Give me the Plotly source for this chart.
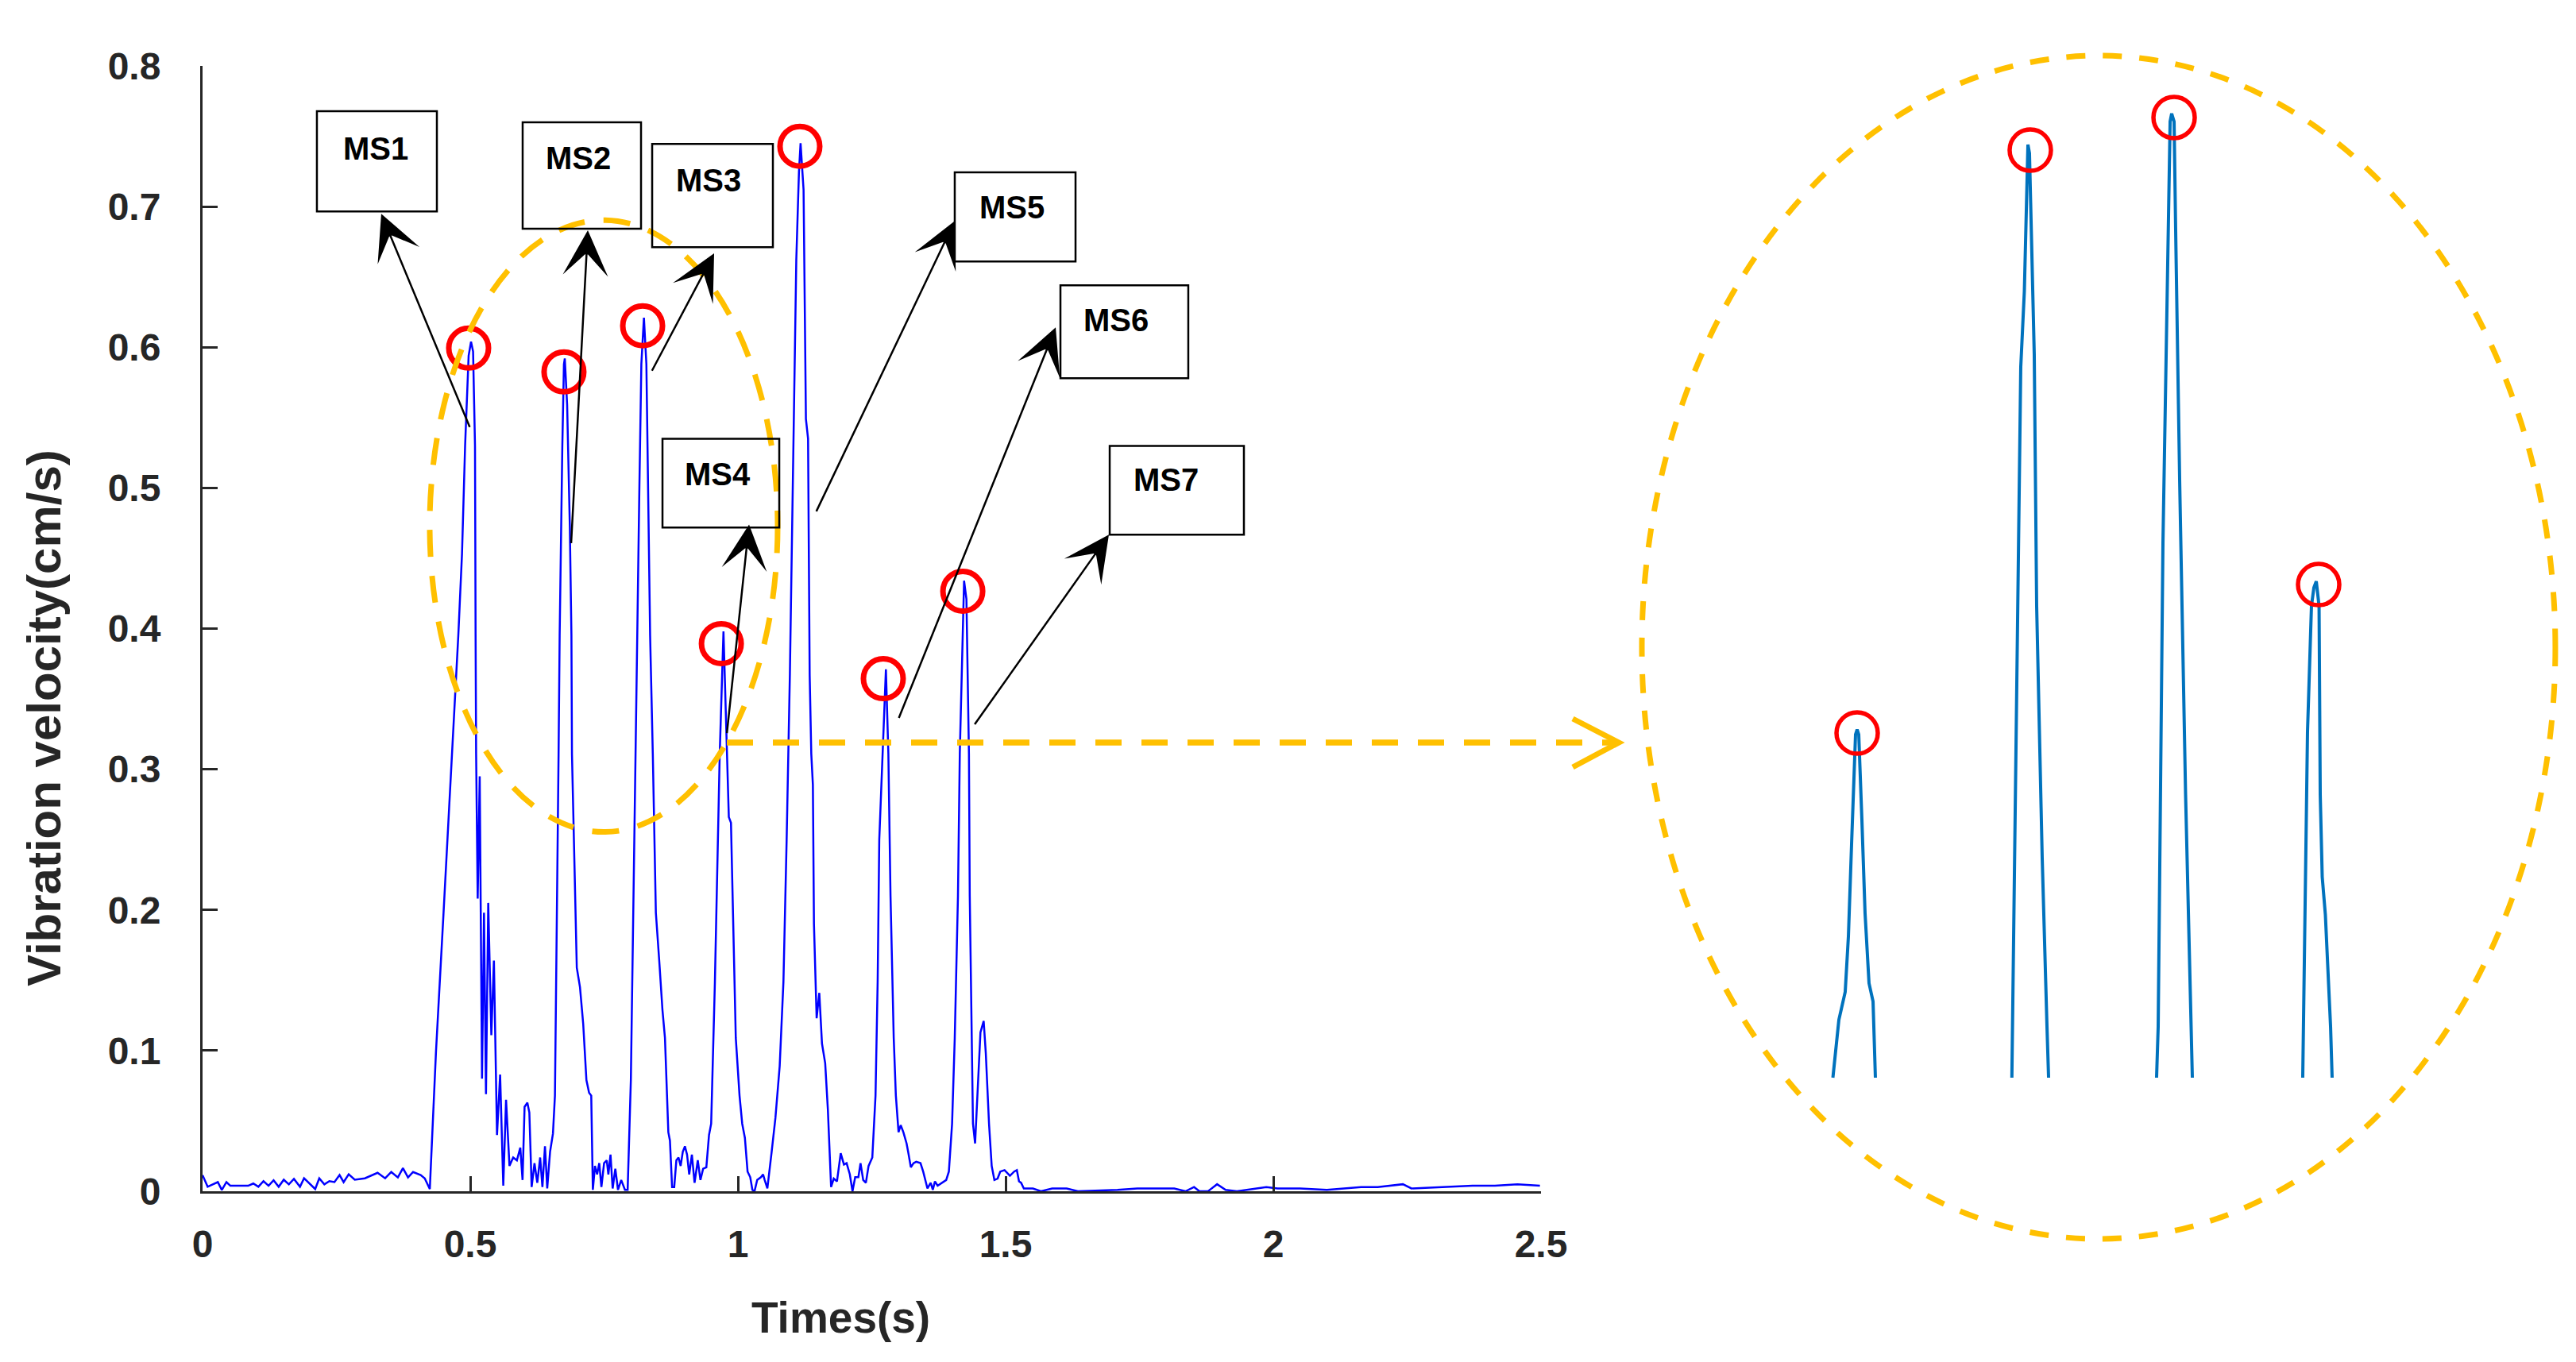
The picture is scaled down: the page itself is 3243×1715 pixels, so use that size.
import plotly.graph_objects as go

W, H = 3243, 1715

# main record: time (s) and vibration velocity (cm/s)
time_s = [
    0.0000, 0.0095, 0.0190, 0.0285, 0.0360, 0.0446, 0.0520, 0.0664, 0.0853, 0.0948,
    0.1043, 0.1138, 0.1233, 0.1327, 0.1422, 0.1517, 0.1612, 0.1707, 0.1820, 0.1896,
    0.2010, 0.2104, 0.2180, 0.2275, 0.2369, 0.2464, 0.2559, 0.2635, 0.2730, 0.2843,
    0.3032, 0.3269, 0.3411, 0.3525, 0.3648, 0.3743, 0.3838, 0.3932, 0.4074, 0.4150,
    0.4245, 0.4360, 0.4500, 0.4660, 0.4777, 0.4846, 0.4904, 0.4970, 0.5015, 0.5053,
    0.5089, 0.5100, 0.5110, 0.5139, 0.5177, 0.5220, 0.5257, 0.5294, 0.5336, 0.5394,
    0.5442, 0.5500, 0.5558, 0.5617, 0.5669, 0.5733, 0.5802, 0.5871, 0.5935, 0.5977,
    0.6015, 0.6067, 0.6104, 0.6147, 0.6200, 0.6252, 0.6306, 0.6348, 0.6396, 0.6438,
    0.6491, 0.6545, 0.6582, 0.6650, 0.6670, 0.6720, 0.6750, 0.6766, 0.6810, 0.6860,
    0.6890, 0.6900, 0.6940, 0.6990, 0.7050, 0.7110, 0.7170, 0.7220, 0.7260, 0.7290,
    0.7330, 0.7370, 0.7410, 0.7450, 0.7500, 0.7550, 0.7580, 0.7620, 0.7660, 0.7710,
    0.7760, 0.7820, 0.7890, 0.7940, 0.8000, 0.8040, 0.8080, 0.8120, 0.8160, 0.8196,
    0.8244, 0.8290, 0.8320, 0.8360, 0.8410, 0.8467, 0.8530, 0.8590, 0.8637, 0.8700,
    0.8730, 0.8770, 0.8810, 0.8850, 0.8890, 0.8930, 0.8970, 0.9010, 0.9050, 0.9090,
    0.9140, 0.9190, 0.9250, 0.9300, 0.9350, 0.9410, 0.9460, 0.9500, 0.9570, 0.9620,
    0.9660, 0.9730, 0.9790, 0.9830, 0.9870, 0.9920, 0.9960, 1.0030, 1.0080, 1.0130,
    1.0180, 1.0230, 1.0270, 1.0310, 1.0360, 1.0430, 1.0470, 1.0500, 1.0550, 1.0630,
    1.0700, 1.0780, 1.0850, 1.0910, 1.0940, 1.0970, 1.1090, 1.1140, 1.1170, 1.1226,
    1.1270, 1.1310, 1.1340, 1.1370, 1.1400, 1.1420, 1.1470, 1.1520, 1.1570, 1.1630,
    1.1680, 1.1740, 1.1790, 1.1850, 1.1920, 1.1980, 1.2030, 1.2090, 1.2140, 1.2190,
    1.2250, 1.2290, 1.2340, 1.2390, 1.2440, 1.2510, 1.2570, 1.2610, 1.2640, 1.2700,
    1.2764, 1.2810, 1.2850, 1.2910, 1.2950, 1.3000, 1.3040, 1.3090, 1.3150, 1.3180,
    1.3230, 1.3280, 1.3330, 1.3410, 1.3460, 1.3540, 1.3600, 1.3640, 1.3680, 1.3730,
    1.3810, 1.3890, 1.3940, 1.4000, 1.4050, 1.4110, 1.4144, 1.4224, 1.4268, 1.4315,
    1.4330, 1.4370, 1.4390, 1.4430, 1.4470, 1.4530, 1.4590, 1.4630, 1.4690, 1.4740,
    1.4790, 1.4850, 1.4900, 1.4980, 1.5080, 1.5160, 1.5210, 1.5250, 1.5290, 1.5340,
    1.5510, 1.5660, 1.5870, 1.6140, 1.6350, 1.7090, 1.7460, 1.8150, 1.8360, 1.8520,
    1.8620, 1.8780, 1.8950, 1.9110, 1.9320, 1.9870, 2.0080, 2.0500, 2.1000, 2.1640,
    2.1950, 2.2420, 2.2580, 2.3100, 2.3720, 2.4140, 2.4560, 2.4980,
]
velocity = [
    0.0115, 0.0032, 0.0049, 0.0065, 0.0009, 0.0065, 0.0039, 0.0039, 0.0039, 0.0055,
    0.0032, 0.0072, 0.0039, 0.0078, 0.0032, 0.0082, 0.0049, 0.0088, 0.0032, 0.0092,
    0.0049, 0.0016, 0.0092, 0.0049, 0.0072, 0.0065, 0.0115, 0.0065, 0.0121, 0.0082,
    0.0092, 0.0131, 0.0092, 0.0137, 0.0098, 0.0164, 0.0098, 0.0137, 0.0115, 0.0092,
    0.0016, 0.099, 0.197, 0.311, 0.395, 0.453, 0.530, 0.594, 0.604, 0.597,
    0.530, 0.395, 0.311, 0.208, 0.295, 0.080, 0.198, 0.069, 0.205, 0.111,
    0.164, 0.040, 0.083, 0.004, 0.065, 0.018, 0.024, 0.022, 0.031, 0.008,
    0.060, 0.063, 0.056, 0.003, 0.020, 0.006, 0.024, 0.003, 0.032, 0.002,
    0.028, 0.041, 0.068, 0.311, 0.395, 0.530, 0.588, 0.592, 0.559, 0.473,
    0.395, 0.311, 0.250, 0.159, 0.145, 0.119, 0.079, 0.070, 0.068, 0.001,
    0.018, 0.012, 0.020, 0.003, 0.020, 0.022, 0.012, 0.026, 0.002, 0.016,
    0.001, 0.008, 0.001, 0.001, 0.079, 0.190, 0.311, 0.395, 0.502, 0.588,
    0.621, 0.588, 0.502, 0.395, 0.311, 0.198, 0.164, 0.129, 0.109, 0.042,
    0.036, 0.003, 0.003, 0.022, 0.024, 0.018, 0.028, 0.032, 0.026, 0.012,
    0.026, 0.006, 0.022, 0.008, 0.016, 0.017, 0.040, 0.048, 0.149, 0.250,
    0.311, 0.398, 0.311, 0.266, 0.262, 0.169, 0.109, 0.068, 0.048, 0.038,
    0.014, 0.010, 0.001, 0.000, 0.008, 0.010, 0.012, 0.008, 0.002, 0.028,
    0.052, 0.089, 0.149, 0.250, 0.311, 0.367, 0.662, 0.725, 0.745, 0.712,
    0.549, 0.535, 0.367, 0.311, 0.289, 0.190, 0.123, 0.141, 0.105, 0.091,
    0.058, 0.003, 0.009, 0.007, 0.027, 0.019, 0.020, 0.012, 0.000, 0.010,
    0.010, 0.020, 0.008, 0.006, 0.018, 0.024, 0.068, 0.149, 0.250, 0.311,
    0.371, 0.311, 0.210, 0.109, 0.068, 0.042, 0.047, 0.042, 0.034, 0.028,
    0.017, 0.020, 0.021, 0.020, 0.014, 0.002, 0.006, 0.001, 0.007, 0.004,
    0.006, 0.008, 0.014, 0.048, 0.109, 0.210, 0.311, 0.434, 0.421, 0.311,
    0.210, 0.109, 0.048, 0.034, 0.068, 0.113, 0.121, 0.098, 0.048, 0.018,
    0.008, 0.009, 0.014, 0.015, 0.011, 0.014, 0.015, 0.007, 0.006, 0.002,
    0.002, 0.000, 0.002, 0.002, 0.000, 0.001, 0.002, 0.002, 0.000, 0.003,
    0.000, 0.000, 0.005, 0.001, 0.000, 0.003, 0.002, 0.002, 0.001, 0.003,
    0.003, 0.005, 0.002, 0.003, 0.004, 0.004, 0.005, 0.004,
]

# peak markers MS1..MS7
peak_names = ["MS1", "MS2", "MS3", "MS4", "MS5", "MS6", "MS7"]
peak_t = [0.497, 0.675, 0.822, 0.969, 1.1157, 1.2715, 1.420]
peak_v = [0.5994, 0.5825, 0.6153, 0.3893, 0.7429, 0.3644, 0.4266]

# label boxes (t0, t1, v0, v1), text centre and arrow tail/tip
box_t0 = [0.2136, 0.5979, 0.8398, 0.8591, 1.4050, 1.6024, 1.6944]
box_t1 = [0.4377, 0.8190, 1.0653, 1.0772, 1.6306, 1.8412, 1.9451]
box_v0 = [0.6966, 0.6842, 0.6712, 0.4718, 0.6610, 0.5780, 0.4667]
box_v1 = [0.7678, 0.7599, 0.7446, 0.5350, 0.7243, 0.6441, 0.5299]
label_t = [0.3234, 0.7018, 0.9451, 0.9629, 1.5119, 1.7062, 1.7997]
label_v = [0.7412, 0.7345, 0.7186, 0.5096, 0.6994, 0.6192, 0.5056]
tail_t = [0.5000, 0.6884, 0.8383, 0.9792, 1.1454, 1.2997, 1.4407]
tail_v = [0.5424, 0.4599, 0.5825, 0.3249, 0.4825, 0.3356, 0.3311]
tip_t = [0.3338, 0.7196, 0.9555, 1.0208, 1.4050, 1.5935, 1.6929]
tip_v = [0.6949, 0.6831, 0.6667, 0.4740, 0.6898, 0.6141, 0.4667]

# enlarged view on the right: four peaks, cut at the bottom
zoom_a_t = [0.4562, 0.4629, 0.4674, 0.4792, 0.4852, 0.4911, 0.4955, 0.4985, 0.5015,
            0.5045, 0.5104, 0.5163, 0.5237, 0.5312, 0.5356]
zoom_a_v = [0.0800, 0.1046, 0.1212, 0.1410, 0.1806, 0.2461, 0.2958, 0.3241, 0.3277,
            0.3241, 0.2631, 0.1969, 0.1472, 0.1342, 0.0800]
zoom_b_t = [0.7905, 0.7997, 0.8071, 0.8138, 0.8190, 0.8205, 0.8234, 0.8264, 0.8323,
            0.8368, 0.8472, 0.8561, 0.8591]
zoom_b_v = [0.0800, 0.3704, 0.5856, 0.6393, 0.7286, 0.7438, 0.7376, 0.6840, 0.5947,
            0.4156, 0.2359, 0.1162, 0.0800]
zoom_c_t = [1.0608, 1.0638, 1.0727, 1.0816, 1.0861, 1.0890, 1.0935, 1.0964, 1.1039,
            1.1150, 1.1261, 1.1276]
zoom_c_v = [0.0800, 0.1162, 0.4602, 0.6840, 0.7602, 0.7659, 0.7602, 0.6840, 0.5049,
            0.2811, 0.1162, 0.0800]
zoom_d_t = [1.3338, 1.3353, 1.3427, 1.3501, 1.3546, 1.3591, 1.3643, 1.3665, 1.3702,
            1.3761, 1.3858, 1.3887]
zoom_d_v = [0.0800, 0.1162, 0.3258, 0.4156, 0.4286, 0.4331, 0.4156, 0.2811, 0.2229,
            0.1958, 0.1162, 0.0800]
zoom_peak_t = [0.5015, 0.8249, 1.0935, 1.3635]
zoom_peak_v = [0.3252, 0.7399, 0.7631, 0.4308]

x_ticks = [0, 0.5, 1, 1.5, 2, 2.5]
x_ticktext = ["0", "0.5", "1", "1.5", "2", "2.5"]
y_ticks = [0, 0.1, 0.2, 0.3, 0.4, 0.5, 0.6, 0.7, 0.8]
y_ticktext = ["0", "0.1", "0.2", "0.3", "0.4", "0.5", "0.6", "0.7", "0.8"]

GOLD = "#FFC000"
INK = "#262626"
FONT = "Liberation Sans"


def px(x):
    return x / W


def py(y):
    return 1 - y / H


fig = go.Figure()

fig.add_trace(go.Scatter(x=time_s, y=velocity, mode="lines",
                         line=dict(color="#0000FF", width=2.5),
                         showlegend=False, hoverinfo="skip"))
fig.add_trace(go.Scatter(x=peak_t, y=peak_v, mode="markers",
                         marker=dict(symbol="circle-open", size=50, color="#FF0000",
                                     line=dict(width=7)),
                         showlegend=False, hoverinfo="skip"))

zoom_t = zoom_a_t + [None] + zoom_b_t + [None] + zoom_c_t + [None] + zoom_d_t
zoom_v = zoom_a_v + [None] + zoom_b_v + [None] + zoom_c_v + [None] + zoom_d_v
fig.add_trace(go.Scatter(x=zoom_t, y=zoom_v, mode="lines", xaxis="x2", yaxis="y2",
                         line=dict(color="#0072BD", width=4),
                         showlegend=False, hoverinfo="skip"))
fig.add_trace(go.Scatter(x=zoom_peak_t, y=zoom_peak_v, mode="markers", xaxis="x2", yaxis="y2",
                         marker=dict(symbol="circle-open", size=52, color="#FF0000",
                                     line=dict(width=5.5)),
                         showlegend=False, hoverinfo="skip"))

shapes = []
# dashed ellipse round MS1-MS4
shapes.append(dict(type="circle", xref="x", yref="y", x0=0.4243, x1=1.0742, y0=0.2554, y1=0.6904,
                   line=dict(color=GOLD, width=7, dash="34px,24px")))
# big dashed ellipse of the enlarged view
shapes.append(dict(type="circle", xref="x2", yref="y2", x0=0.0994, x1=1.8056, y0=-0.0347, y1=0.8071,
                   line=dict(color=GOLD, width=7, dash="24px,22px")))
# dashed pointer to the enlarged view
shapes.append(dict(type="line", xref="paper", yref="paper", x0=px(915), x1=px(2034), y0=py(935), y1=py(935),
                   line=dict(color=GOLD, width=7.5, dash="33px,25px")))
shapes.append(dict(type="path", xref="paper", yref="paper",
                   path="M %f,%f L %f,%f L %f,%f" % (px(1980), py(905), px(2038), py(935), px(1980), py(966)),
                   line=dict(color=GOLD, width=7)))
for i in range(len(peak_names)):
    shapes.append(dict(type="rect", xref="x", yref="y", x0=box_t0[i], x1=box_t1[i],
                       y0=box_v0[i], y1=box_v1[i], line=dict(color="black", width=2.5)))

annotations = []
for i, name in enumerate(peak_names):
    annotations.append(dict(x=label_t[i], y=label_v[i], xref="x", yref="y", text=name,
                            showarrow=False, xanchor="center", yanchor="middle",
                            font=dict(family=FONT, size=40, color="black", weight="bold")))
    annotations.append(dict(x=tip_t[i], y=tip_v[i], xref="x", yref="y", text="",
                            ax=tail_t[i], ay=tail_v[i], axref="x", ayref="y",
                            showarrow=True, arrowhead=3, arrowsize=3.8, arrowwidth=2.5,
                            arrowcolor="black", standoff=0))

annotations.append(dict(x=px(1058), y=py(1659), xref="paper", yref="paper", text="Times(s)",
                        showarrow=False, xanchor="center", yanchor="middle",
                        font=dict(family=FONT, size=55, color=INK, weight="bold")))
annotations.append(dict(x=px(56), y=py(904), xref="paper", yref="paper", text="Vibration velocity(cm/s)",
                        showarrow=False, xanchor="center", yanchor="middle", textangle=-90,
                        font=dict(family=FONT, size=60, color=INK, weight="bold")))

tickfont = dict(family=FONT, size=48, color=INK, weight="bold")

fig.update_layout(
    width=W, height=H,
    margin=dict(l=0, r=0, t=0, b=0),
    paper_bgcolor="white", plot_bgcolor="white",
    showlegend=False,
    xaxis=dict(domain=[px(255), px(1940)], range=[0, 2.5], anchor="y",
               showline=True, linecolor=INK, linewidth=3, showgrid=False, zeroline=False,
               ticks="inside", ticklen=19, tickwidth=2.5, tickcolor=INK,
               tickvals=x_ticks, ticktext=x_ticktext, tickfont=tickfont,
               ticklabelstandoff=22, automargin=False),
    yaxis=dict(domain=[py(1500), py(83)], range=[0, 0.8], anchor="x",
               showline=True, linecolor=INK, linewidth=3, showgrid=False, zeroline=False,
               ticks="inside", ticklen=19, tickwidth=2.5, tickcolor=INK,
               tickvals=y_ticks, ticktext=y_ticktext, tickfont=tickfont,
               ticklabelstandoff=40, automargin=False),
    xaxis2=dict(domain=[px(2000), 1], range=[0, 1243 / 674], anchor="y2", visible=False),
    yaxis2=dict(domain=[0, 1], range=[-0.12226, 0.84667], anchor="x2", visible=False),
    shapes=shapes,
    annotations=annotations,
)

fig.write_html("out.html", config={"displayModeBar": False},
               post_script="document.body.style.margin='0px';")
